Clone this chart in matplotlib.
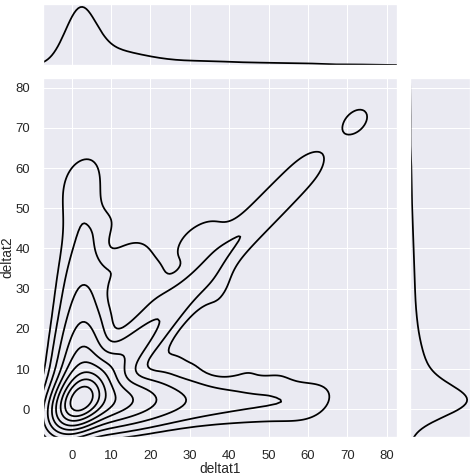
import numpy as np
import matplotlib
matplotlib.use("Agg")
import matplotlib.pyplot as plt
import seaborn as sns

sns.set_theme(style="darkgrid")
plt.rcParams['font.family'] = ['Liberation Sans', 'DejaVu Sans']

# ---- representative weighted sample ----
core_x = [2.0, 1.0, 3.0, 1.0, 4.0, 1.5]
core_y = [2.0, 1.0, 4.0, 5.0, 1.0, 0.5]
core_w = [30, 12, 12, 8, 8, 8]

yr_y = [7, 10, 13, 16, 19, 22, 25, 28, 31, 34, 37, 40, 43, 46, 49, 52, 55, 58, 61]
yr_x = [2.5] * len(yr_y)
yr_w = [9, 7.5, 6, 4.5, 3.5, 2.7, 2.1, 1.7, 1.4, 1.15, 0.95, 0.75, 0.64, 0.58, 0.58, 0.62, 0.68, 0.66, 0.4]

xr_x = [7, 10, 13, 16, 19, 22, 25, 28, 31, 34, 37, 40, 43, 46, 49, 52, 55, 58, 61, 64]
xr_y = [1.8] * len(xr_x)
xr_w = [9, 7.5, 6, 4.5, 3.5, 2.6, 1.9, 1.5, 1.2, 1.0, 0.9, 0.8, 0.74, 0.7, 0.66, 0.62, 0.62, 0.64, 0.66, 0.45]

dg_t = [8, 11, 14, 17, 20, 23, 26, 29, 32, 35, 38, 41, 44, 47, 50, 53, 56, 59, 62]
dg_w = [4, 3.4, 2.8, 2.2, 1.8, 1.5, 1.2, 1.0, 0.9, 0.8, 0.74, 0.7, 0.68, 0.68, 0.68, 0.68, 0.65, 0.65, 0.6]

wedge_x = [11, 15, 19, 20, 17, 13, 9, 30, 35, 37, 38, 42, 33, 25, 46, 53, 72]
wedge_y = [34, 38, 33, 29, 36, 25, 46, 41, 44, 22, 30, 17, 13, 12, 12, 9, 71.5]
wedge_w = [0.9, 0.9, 0.75, 0.65, 0.4, 0.7, 0.6, 0.9, 0.8, 0.68, 0.62, 0.5, 0.55, 0.7, 0.6, 0.4, 1.15]

x_pts = np.array(core_x + yr_x + xr_x + dg_t + wedge_x, dtype=float)
y_pts = np.array(core_y + yr_y + xr_y + dg_t + wedge_y, dtype=float)
w_pts = np.array(core_w + yr_w + xr_w + dg_w + wedge_w, dtype=float)

BW = 0.26

W, H = 474, 475
DPI = 79
fig = plt.figure(figsize=(W / DPI, H / DPI), dpi=DPI)

def px_axes(l, t, r, b):
    return fig.add_axes([l / W, 1 - b / H, (r - l) / W, (b - t) / H])

ax = px_axes(43.3, 78.3, 397.3, 436.7)
axx = px_axes(43.3, 4, 397.3, 65)
axy = px_axes(410, 78.3, 470, 436.7)

LW = 1.6
sns.kdeplot(x=x_pts, y=y_pts, weights=w_pts, bw_method=BW, color="black",
            levels=10, ax=ax, linewidths=LW)
sns.kdeplot(x=x_pts, weights=w_pts, bw_method=BW, color="black", ax=axx, linewidth=LW)
sns.kdeplot(y=y_pts, weights=w_pts, bw_method=BW, color="black", ax=axy, linewidth=LW)

ax.set_xlim(-7.2, 82.7)
ax.set_ylim(-6.8, 82.3)
axx.set_xlim(-7.2, 82.7)
axy.set_ylim(-6.8, 82.3)
ticks = [0, 10, 20, 30, 40, 50, 60, 70, 80]
ax.set_xticks(ticks)
ax.set_yticks(ticks)
axx.set_xticks(ticks)
axy.set_yticks(ticks)
ax.tick_params(labelsize=12, pad=6)
ax.set_xlabel("deltat1", fontsize=12.5)
ax.set_ylabel("deltat2", fontsize=12.5)
ax.xaxis.set_label_coords(0.5, -0.0706)
ax.yaxis.set_label_coords(-0.082, 0.5)
for a in (axx, axy):
    a.set_xlabel("")
    a.set_ylabel("")
    a.tick_params(labelbottom=False, labelleft=False, length=0)
axx.set_yticks([])
axy.set_xticks([])
axx.yaxis.grid(False)
axy.xaxis.grid(False)

fig.savefig("out.png", dpi=DPI)
